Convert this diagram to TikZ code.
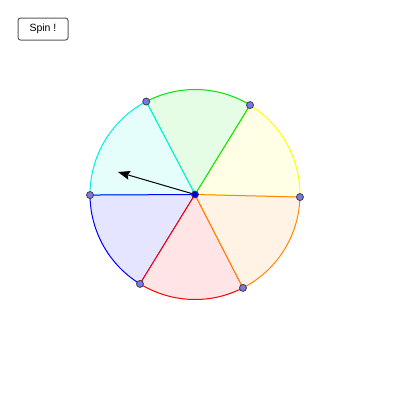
\documentclass[tikz,border=0pt]{standalone}
\usepackage{fontspec}
\setmainfont{Liberation Sans}
\usetikzlibrary{arrows.meta}
\definecolor{cgreen}{RGB}{0,230,0}
\definecolor{cyellow}{RGB}{255,255,0}
\definecolor{corange}{RGB}{255,136,0}
\definecolor{cred}{RGB}{255,0,0}
\definecolor{cblue}{RGB}{0,0,255}
\definecolor{ccyan}{RGB}{0,240,230}
\definecolor{ptfill}{RGB}{120,120,235}
\tikzset{
  sector/.style={draw=#1, fill=#1!10, line width=1pt},
  pt/.style={circle, draw=black!75, fill=ptfill, line width=0.8pt, inner sep=0pt, minimum size=7pt},
  ctr/.style={circle, draw=black!75, fill=blue!85!black, line width=0.8pt, inner sep=0pt, minimum size=7pt},
  button/.style={draw=black!65, rounded corners=2.5pt, line width=1pt, minimum width=50pt, minimum height=22pt, inner sep=0pt, font=\fontsize{10.5}{12}\selectfont},
}
\begin{document}
\begin{tikzpicture}[x=1pt,y=-1pt]
\useasboundingbox (0,0) rectangle (400,400);
\coordinate (O) at (195,194.5);
\def\R{105}
\path (O) ++(1.4:\R) coordinate (PA);
\path (O) ++(-58.4:\R) coordinate (PB);
\path (O) ++(-117.7:\R) coordinate (PC);
\path (O) ++(-180.3:\R) coordinate (PD);
\path (O) ++(-238.4:\R) coordinate (PE);
\path (O) ++(-297.2:\R) coordinate (PF);
% sectors
\filldraw[sector=cyellow] (O) -- (PA) arc[start angle=1.4, end angle=-58.4, radius=\R] -- cycle;
\filldraw[sector=cgreen] (O) -- (PB) arc[start angle=-58.4, end angle=-117.7, radius=\R] -- cycle;
\filldraw[sector=ccyan] (O) -- (PC) arc[start angle=-117.7, end angle=-180.3, radius=\R] -- cycle;
\filldraw[sector=cblue] (O) -- (PD) arc[start angle=-180.3, end angle=-238.4, radius=\R] -- cycle;
\filldraw[sector=cred] (O) -- (PE) arc[start angle=-238.4, end angle=-297.2, radius=\R] -- cycle;
\filldraw[sector=corange] (O) -- (PF) arc[start angle=-297.2, end angle=-358.6, radius=\R] -- cycle;
% arrow
\coordinate (T) at (118,172);
\draw[line width=1pt, -{Stealth[length=12pt,width=9pt,inset=2pt]}] (O) -- (T);
% points
\foreach \p in {PA,PB,PC,PD,PE,PF} \node[pt] (n\p) at (\p) {};
\node[ctr] (nO) at (O) {};
% button
\node[button] (spin) at (43,29) {Spin !};
\end{tikzpicture}
\end{document}
